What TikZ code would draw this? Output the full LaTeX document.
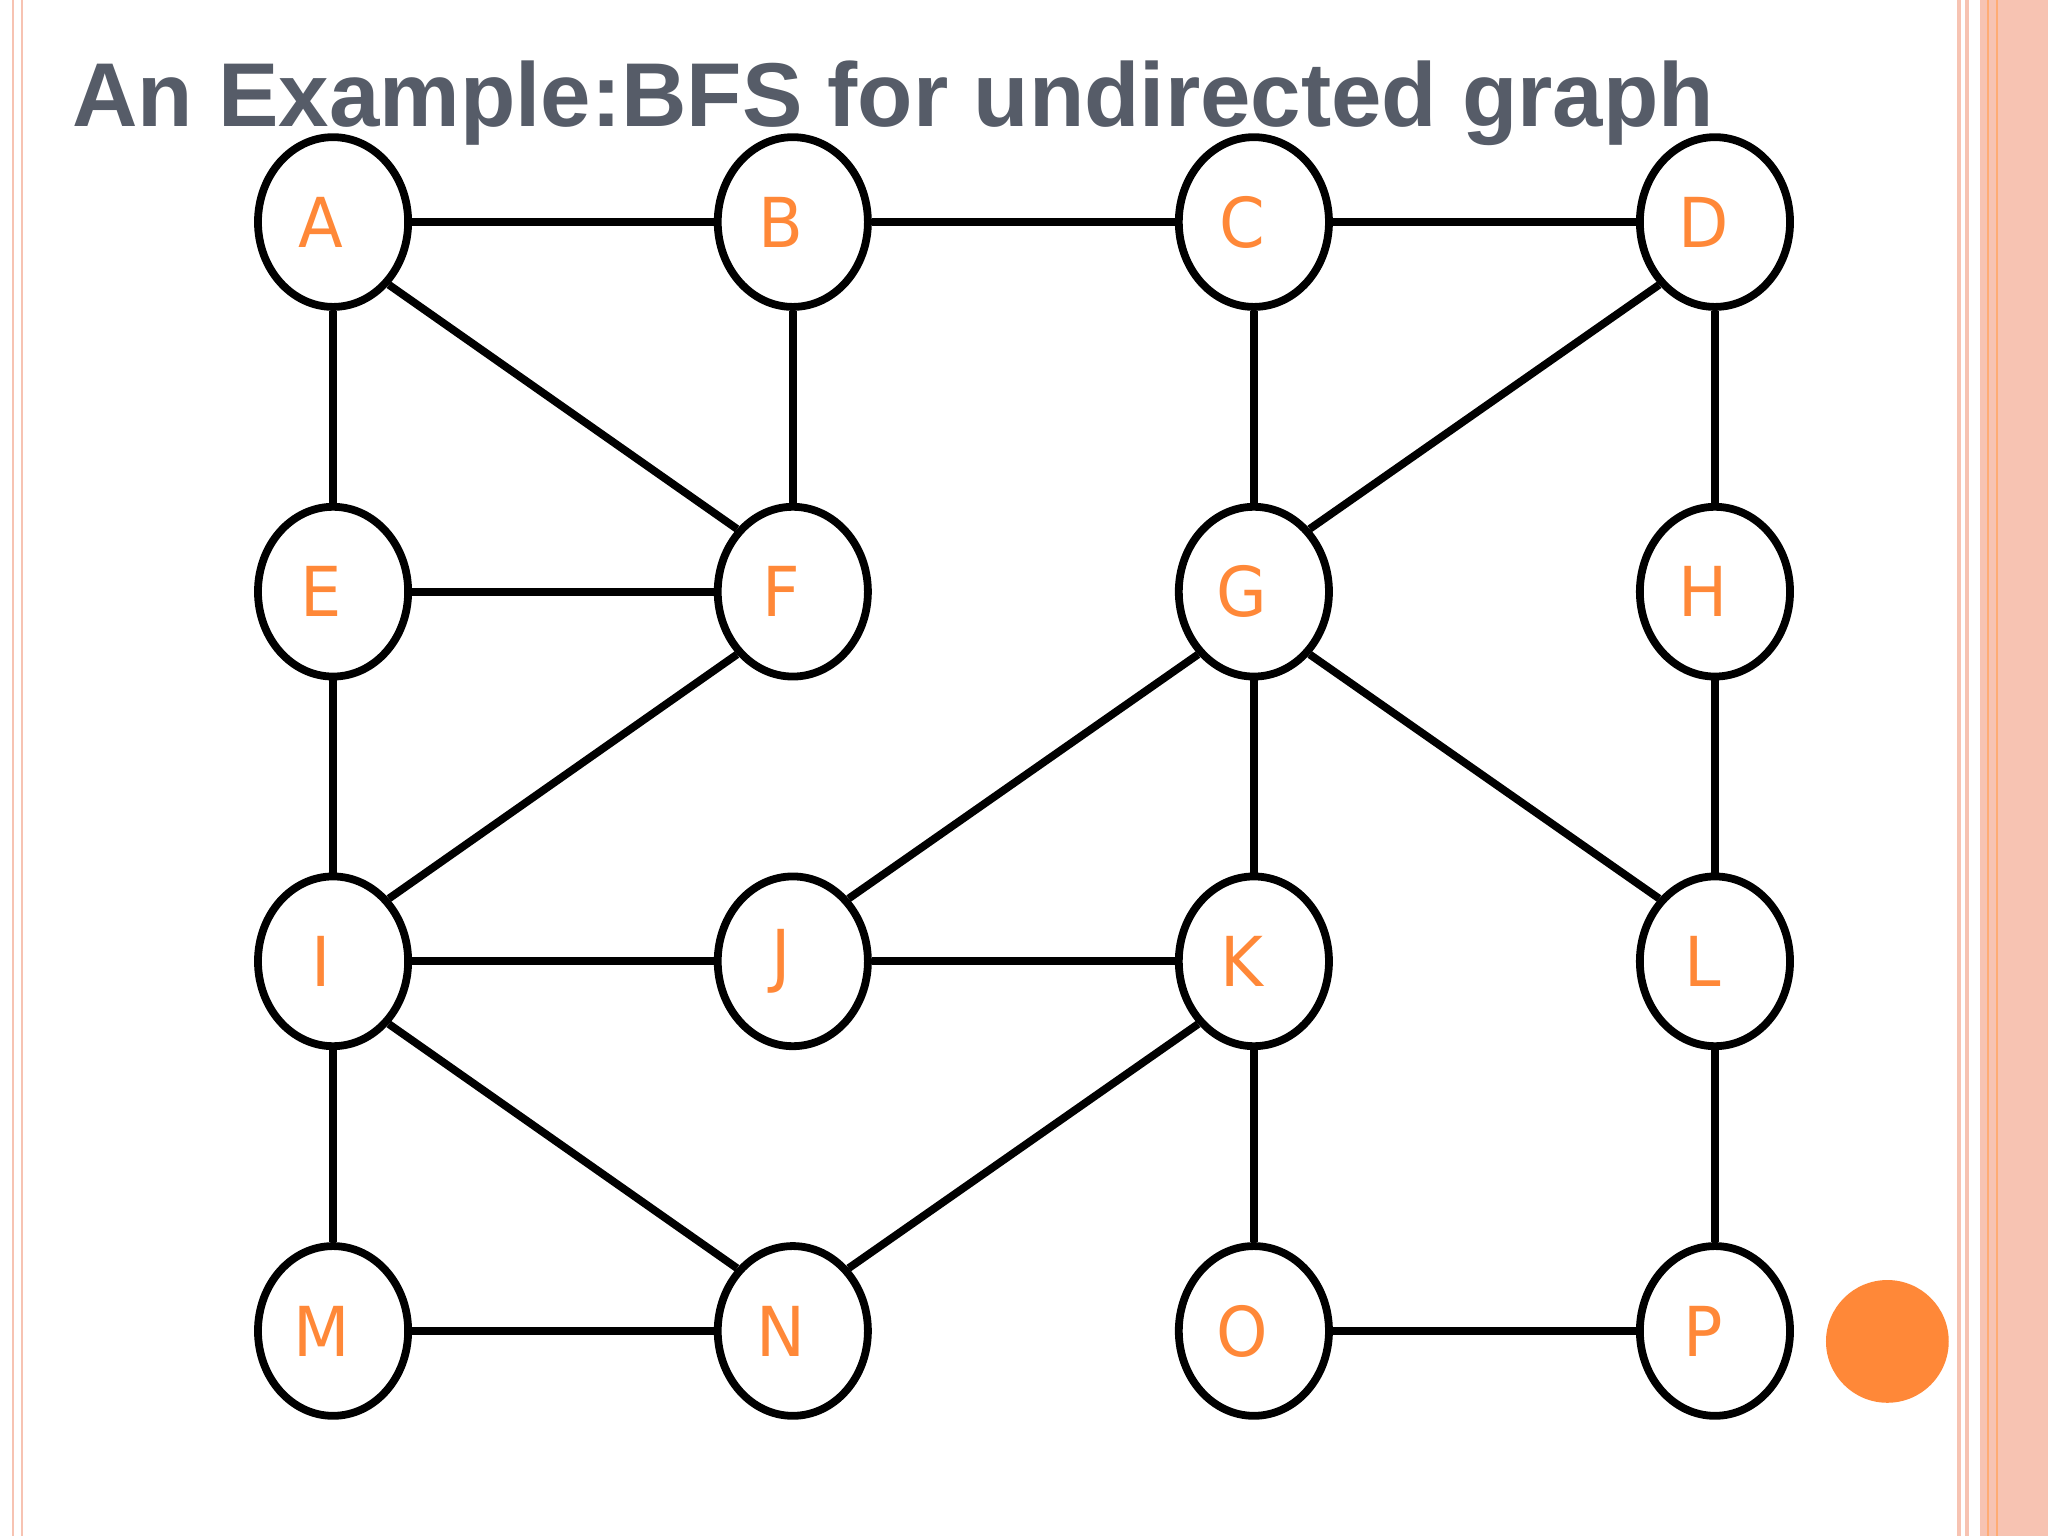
\documentclass[tikz,border=0pt]{standalone}
\usepackage{fontspec}
\setmainfont{Liberation Sans}
\newfontfamily\lblfont{DejaVu Sans}[FakeStretch=0.95]
\usetikzlibrary{shapes.geometric}
\definecolor{pinkl}{HTML}{F7C3B2}
\definecolor{orng}{HTML}{FF8838}
\definecolor{ttl}{HTML}{565C68}
\begin{document}
\begin{tikzpicture}[x=0.02cm,y=-0.02cm,
  v/.style={ellipse,draw=black,line width=3.4pt,fill=white,minimum width=2.3cm,minimum height=2.6cm,inner sep=0pt},
  lbl/.style={text=orng,font=\lblfont\fontsize{30}{30}\selectfont,xshift=-0.18cm},
  e/.style={line width=3.4pt}]
\useasboundingbox (0,0) rectangle (1568,1176);
\fill[white] (0,0) rectangle (1568,1176);
% borders
\draw[pinkl,line width=1pt] (10,0)--(10,1176) (17,0)--(17,1176);
\draw[pinkl,line width=1.5pt] (1500,0)--(1500,1176) (1506,0)--(1506,1176);
\fill[pinkl] (1516,0) rectangle (1568,1176);
\draw[orng!70,line width=1pt] (1522,0)--(1522,1176) (1529,0)--(1529,1176);
\node[anchor=base west,text=ttl,font=\bfseries\fontsize{39.5}{40}\selectfont,inner sep=0pt] (title) at (55,97) {An Example:BFS for undirected graph};
\foreach \n/\x/\y in {A/255/170,B/607/170,C/960/170,D/1313/170,E/255/453,F/607/453,G/960/453,H/1313/453,I/255/736,J/607/736,K/960/736,L/1313/736,M/255/1019,N/607/1019,O/960/1019,P/1313/1019}
  \node[v] (\n) at (\x,\y) {};
\foreach \a/\b in {A/B,B/C,C/D,A/E,B/F,C/G,D/H,E/F,E/I,H/L,I/J,J/K,I/M,K/O,L/P,M/N,O/P,G/K}
  \draw[e] (\a) -- (\b);
\foreach \a/\b in {A/F,G/L,I/N}
  \draw[e] (\a.south east) -- (\b.north west);
\foreach \a/\b in {D/G,F/I,G/J,K/N}
  \draw[e] (\a.south west) -- (\b.north east);
\foreach \n in {A,B,C,D,E,F,G,H,I,J,K,L,M,N,O,P}
  \node[lbl] (l\n) at (\n) {\n};
\fill[orng] (1445,1027) circle[radius=0.94cm];
\node[inner sep=0pt] (dot) at (1445,1027) {};
\end{tikzpicture}
\end{document}
